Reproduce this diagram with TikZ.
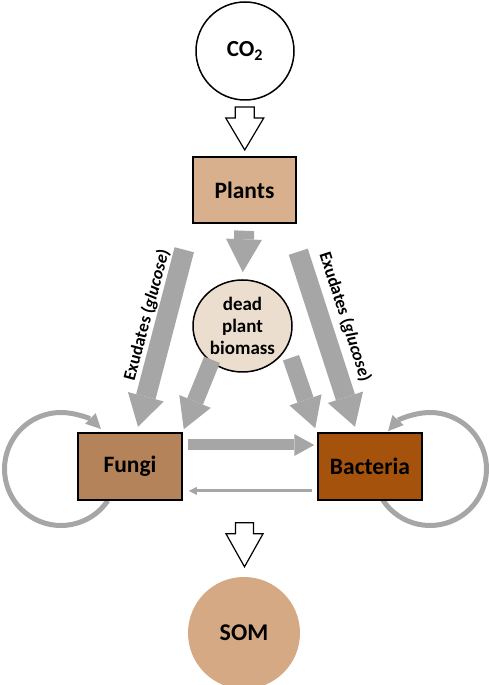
\documentclass[tikz,border=0pt]{standalone}
\usepackage{fontspec}
\setmainfont{Carlito}
\usetikzlibrary{arrows.meta,calc,shapes.geometric,backgrounds}
\definecolor{plantc}{RGB}{216,176,141}
\definecolor{somc}{RGB}{213,169,132}
\definecolor{fungc}{RGB}{181,131,90}
\definecolor{bactc}{RGB}{165,83,12}
\definecolor{deadc}{RGB}{236,222,206}
\definecolor{grayc}{RGB}{166,166,166}
\tikzset{
  box/.style={draw=black, line width=1.5pt, rectangle, inner sep=0pt,
    minimum width=104pt, minimum height=67pt, font=\fontsize{23.5}{27}\selectfont\bfseries},
  garrow/.style n args={3}{draw=grayc, line width=#1,
    -{Triangle[length=#2, width=#3, line width=0pt]}},
  hollow/.style={draw=black, fill=white, line width=1.2pt, line join=miter},
  loopline/.style={draw=grayc, line width=5pt, -{Triangle[length=15pt, width=15pt, line width=0pt]}},
  exu/.style={font=\fontsize{17.5}{20}\selectfont\bfseries, inner sep=0pt},
}
\begin{document}
\begin{tikzpicture}[x=1pt, y=1pt]
\useasboundingbox (0,0) rectangle (489,685);
% nodes
\node[circle, draw=black, line width=1.5pt, fill=white, minimum size=98pt, inner sep=0pt,
  font=\fontsize{23}{27}\selectfont\bfseries] (co2) at (245,634) {CO\textsubscript{2}};
\node[box, fill=plantc, minimum width=103pt, minimum height=66pt] (plants) at (244.5,495) {Plants};
\node[ellipse, draw=black, line width=1.5pt, fill=deadc, minimum width=99pt, minimum height=92pt,
  inner sep=0pt, align=center, font=\fontsize{19}{22}\selectfont\bfseries] (dead) at (242.5,359) {dead\\plant\\biomass};
\node[box, fill=fungc] (fungi) at (130,218.5) {Fungi};
\node[box, fill=bactc] (bact) at (370,218.5) {Bacteria};
\node[circle, fill=somc, minimum size=112pt, inner sep=0pt,
  font=\fontsize{24}{28}\selectfont\bfseries] (som) at (244,52) {SOM};

% self loops behind boxes
\begin{scope}[on background layer]
\coordinate (fl) at ($(fungi.center)+(-69,-2.5)$);
\coordinate (bl) at ($(bact.center)+(60,-2.5)$);
\draw[loopline] ([shift={(-34:56.5)}]fl) arc[start angle=-34, end angle=-315, radius=56.5pt];
\draw[loopline] ([shift={(213:56.5)}]bl) arc[start angle=213, end angle=498, radius=56.5pt];
\end{scope}

% hollow arrows
\coordinate (m1) at ($(co2.south)!0.5!(plants.north)$);
\draw[hollow] ([shift={(-9.5,21.5)}]m1) -- ([shift={(9.5,21.5)}]m1) -- ([shift={(9.5,10.5)}]m1)
  -- ([shift={(19,10.5)}]m1) -- ([shift={(0,-21.5)}]m1) -- ([shift={(-19,10.5)}]m1)
  -- ([shift={(-9.5,10.5)}]m1) -- cycle;
\coordinate (m2) at ($(som.north)+(0.5,32)$);
\draw[hollow] ([shift={(-9,22)}]m2) -- ([shift={(9,22)}]m2) -- ([shift={(9,11)}]m2)
  -- ([shift={(18.5,11)}]m2) -- ([shift={(0,-22)}]m2) -- ([shift={(-18.5,11)}]m2)
  -- ([shift={(-9,11)}]m2) -- cycle;

% gray arrows
\draw[garrow={20pt}{33pt}{36pt}, shorten <=7pt, shorten >=7pt] (plants.south) -- (dead.north);
\draw[garrow={20pt}{31pt}{37pt}] ($(plants.south west)+(-8,-26)$) -- ($(fungi.north)+(8,5.5)$);
\draw[garrow={20pt}{31pt}{37pt}] ($(plants.south east)+(1.5,-28)$) -- ($(bact.north)+(-15,5.5)$);
\draw[garrow={17pt}{30pt}{34pt}] ($(dead.south)+(-30.5,13)$) -- ($(fungi.north east)+(1,3)$);
\draw[garrow={17pt}{30pt}{34pt}] ($(dead.south)+(48.5,15)$) -- ($(bact.north west)+(-2,4)$);
\draw[garrow={11pt}{20pt}{22pt}] ($(fungi.east)+(5,21.5)$) -- ($(bact.west)+(-3,21.5)$);
\draw[draw=grayc, line width=3pt, -{Triangle[length=8pt, width=8pt, line width=0pt]}]
  ($(bact.west)+(-5,-24.5)$) -- ($(fungi.east)+(6,-24.5)$);

% labels
\node[exu, rotate=75] (exl) at (147,370) {Exudates (\textit{glucose})};
\node[exu, rotate=-72] (exr) at (345,368) {Exudates (\textit{glucose})};
\end{tikzpicture}
\end{document}
